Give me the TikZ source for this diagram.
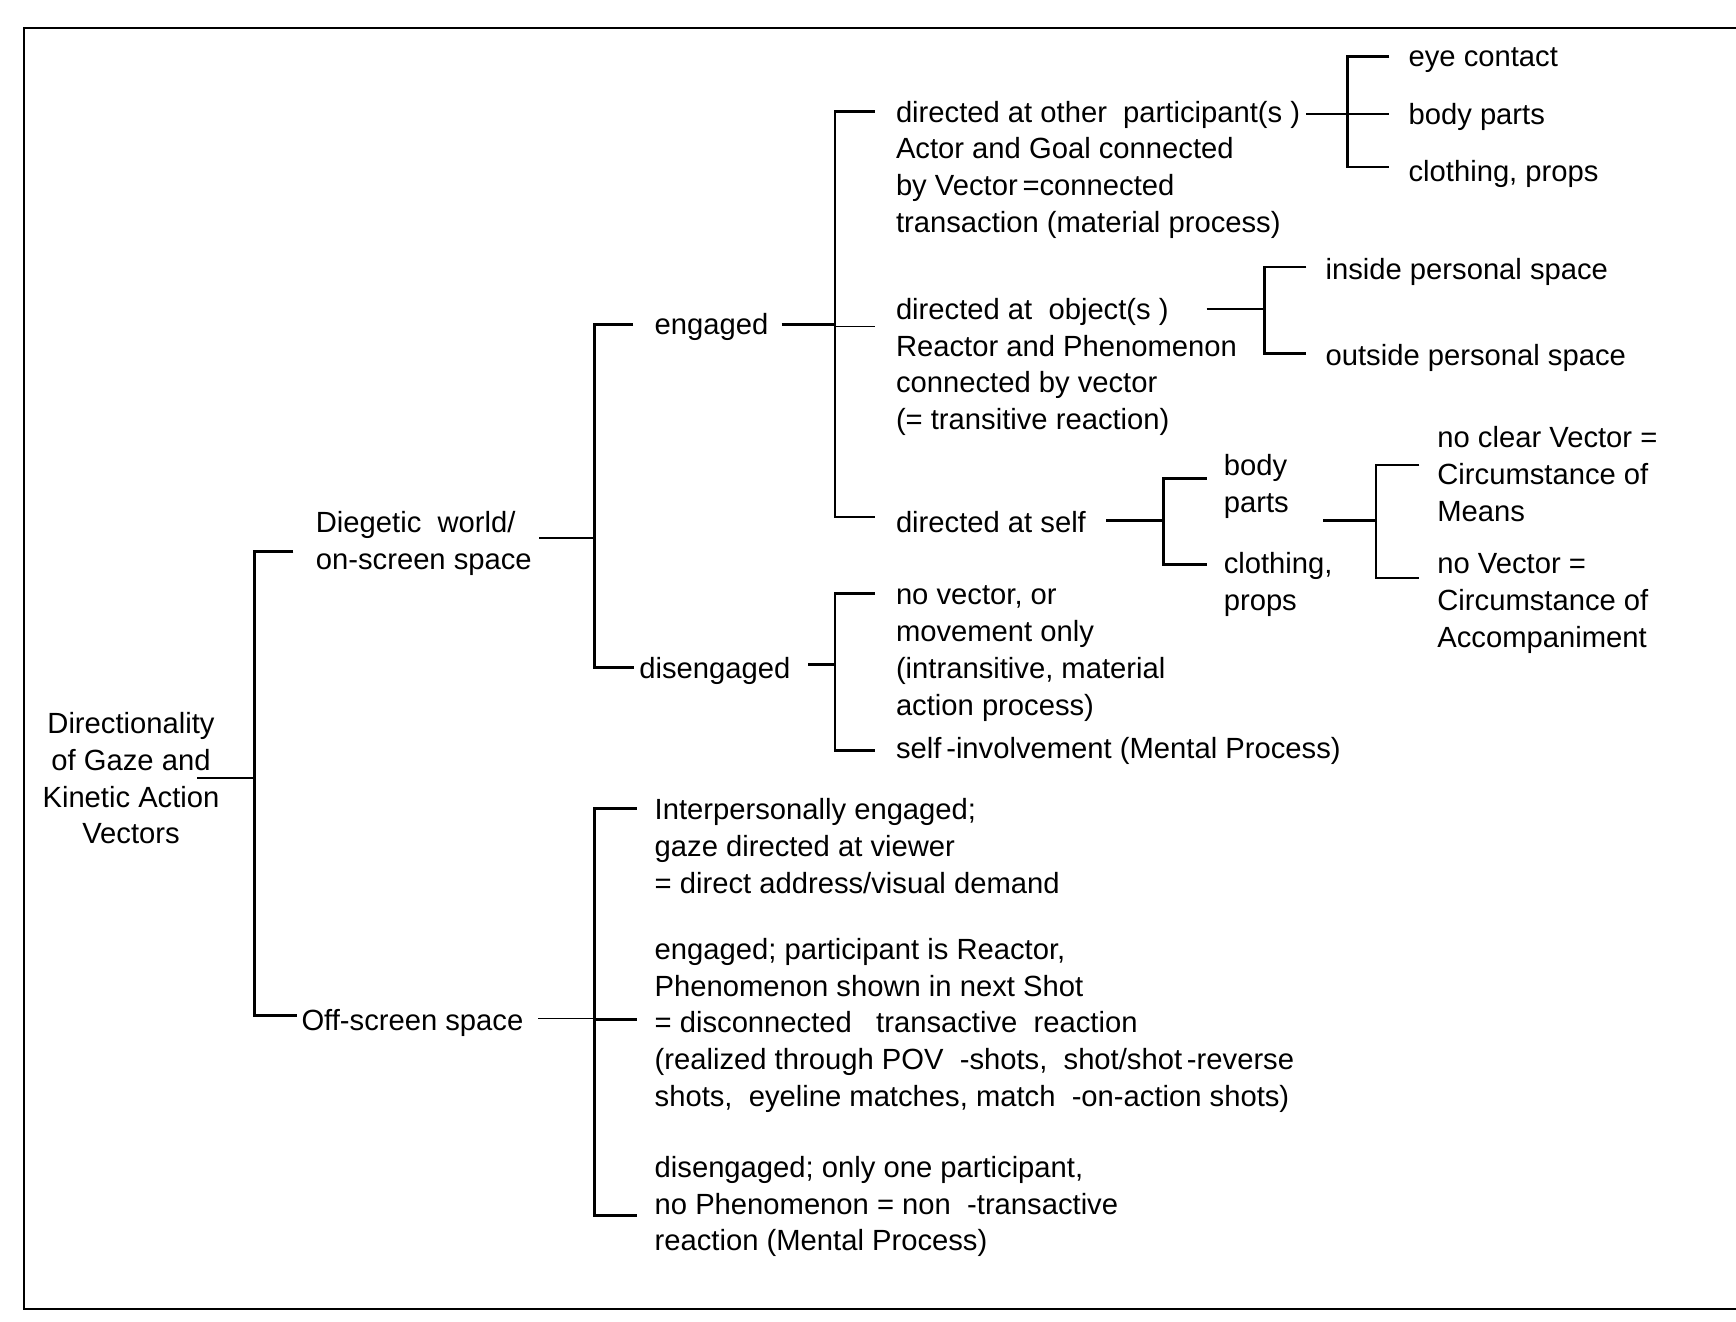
\documentclass[tikz,border=0pt]{standalone}
\usepackage{fontspec}
\setmainfont{Liberation Sans}
\newcommand\tf{\fontsize{14.6pt}{18.4pt}\selectfont}
\begin{document}
\begin{tikzpicture}[x=0.5pt,y=-0.5pt,
  lbl/.style={anchor=north west, inner sep=0pt, align=left, yshift=12.88pt, font=\tf},
  brk/.style={line width=1.3pt, line join=miter},
  thinline/.style={line width=0.7pt},
  frm/.style={line width=1.3pt}]
\useasboundingbox (0,0) rectangle (1736,1322);
% frame
\coordinate (f1) at (1745,28);
\coordinate (f2) at (24,28);
\coordinate (f3) at (24,1309);
\coordinate (f4) at (1745,1309);
\draw[frm] (f1) -- (f2) -- (f3) -- (f4);

% text nodes
\node[lbl, anchor=north, align=center] (root) at (131,733) {\strut Directionality\\of Gaze and\\Kinetic Action\\Vectors};
\node[lbl] (dieg) at (315.5,532.5) {\strut Diegetic\ \ world/\\on-screen space};
\node[lbl] (eng) at (654.3,334.5) {\strut engaged};
\node[lbl] (diseng) at (639,677.6) {\strut disengaged};
\node[lbl] (off) at (301.1,1029.6) {\strut Off-screen space};
\node[lbl] (dao) at (895.6,121.8) {\strut directed at other\ \ participant(s\ )\\Actor and Goal connected\\by Vector\,=connected\\transaction (material process)};
\node[lbl] (ec) at (1408.2,66.5) {\strut eye contact};
\node[lbl] (bp) at (1408.2,124) {\strut body parts};
\node[lbl] (cp) at (1408.2,181.6) {\strut clothing, props};
\node[lbl] (dob) at (895.6,318.9) {\strut directed at\ \ object(s\ )\\Reactor and Phenomenon\\connected by vector\\(= transitive reaction)};
\node[lbl] (ips) at (1325.2,279) {\strut inside personal space};
\node[lbl] (ops) at (1325.2,365.4) {\strut outside personal space};
\node[lbl] (das) at (895.6,532.5) {\strut directed at self};
\node[lbl] (bp2) at (1223.4,475) {\strut body\\parts};
\node[lbl] (cp2) at (1223.4,573.5) {\strut clothing,\\props};
\node[lbl] (ncv) at (1437,447.3) {\strut no clear Vector =\\Circumstance of\\Means};
\node[lbl] (nv) at (1437,573.5) {\strut no Vector =\\Circumstance of\\Accompaniment};
\node[lbl] (nvo) at (895.6,604.5) {\strut no vector, or\\movement only\\(intransitive, material\\action process)};
\node[lbl] (si) at (895.6,758.4) {\strut self\,-involvement (Mental Process)};
\node[lbl] (ie) at (654.3,819.3) {\strut Interpersonally engaged;\\gaze directed at viewer\\= direct address/visual demand};
\node[lbl] (eg) at (654.3,958.8) {\strut engaged; participant is Reactor,\\Phenomenon shown in next Shot\\= disconnected\ \ \ transactive\ \ reaction\\(realized through POV\ \ -shots,\ \ shot/shot\,-reverse\\shots,\ \ eyeline matches, match\ \ -on-action shots)};
\node[lbl] (dg) at (654.3,1176.9) {\strut disengaged; only one participant,\\no Phenomenon = non\ \ -transactive\\reaction (Mental Process)};

% bracket coordinates
\coordinate (r0) at (197,778);   \coordinate (j1) at (254.6,778);
\coordinate (e1a) at (293.4,551.3); \coordinate (e1b) at (296.7,1015.2);
\coordinate (s2) at (539,538);   \coordinate (j2) at (594.5,538);
\coordinate (e2a) at (633.2,324.4); \coordinate (e2b) at (634.4,667.6);
\coordinate (s3) at (781.6,324.4); \coordinate (j3) at (834.8,324.4);
\coordinate (e3a) at (874.6,111.8); \coordinate (e3b) at (874.6,517);
\coordinate (e3m) at (874.6,326.6);
\coordinate (s4) at (1306.4,114); \coordinate (j4) at (1347.3,114);
\coordinate (e4a) at (1389.4,56.5); \coordinate (e4b) at (1389.4,167.2);
\coordinate (e4m) at (1389.4,114);
\coordinate (s5) at (1206.7,308.9); \coordinate (j5) at (1264.3,308.9);
\coordinate (e5a) at (1306.4,266.8); \coordinate (e5b) at (1306.4,353.2);
\coordinate (s6) at (1106,520.3); \coordinate (j6) at (1163.6,520.3);
\coordinate (e6a) at (1206.7,478.3); \coordinate (e6b) at (1206.7,564.6);
\coordinate (s7) at (1323,520.3); \coordinate (j7) at (1376.1,520.3);
\coordinate (e7a) at (1419.3,465); \coordinate (e7b) at (1419.3,578);
\coordinate (s8) at (808.2,664.3); \coordinate (j8) at (834.8,664.3);
\coordinate (e8a) at (874.6,593.4); \coordinate (e8b) at (874.6,750.6);
\coordinate (s9) at (538,1018.5); \coordinate (j9) at (594.5,1018.5);
\coordinate (e9a) at (636.6,808.2); \coordinate (e9b) at (636.6,1215.6);
\coordinate (e9m) at (636.6,1019.6);

% brackets
\draw[brk] (r0) -- (j1);
\draw[brk] (e1a) -| (j1) |- (e1b);
\draw[brk] (s2) -- (j2);
\draw[brk] (e2a) -| (j2) |- (e2b);
\draw[brk] (s3) -- (j3);
\draw[brk] (e3a) -| (j3) |- (e3b);
\draw[thinline] (j3 |- e3m) -- (e3m);
\draw[brk] (s4) -- (j4);
\draw[brk] (e4a) -| (j4) |- (e4b);
\draw[brk] (j4) -- (e4m);
\draw[brk] (s5) -- (j5);
\draw[brk] (e5a) -| (j5) |- (e5b);
\draw[brk] (s6) -- (j6);
\draw[brk] (e6a) -| (j6) |- (e6b);
\draw[brk] (s7) -- (j7);
\draw[brk] (e7a) -| (j7) |- (e7b);
\draw[brk] (s8) -- (j8);
\draw[brk] (e8a) -| (j8) |- (e8b);
\draw[thinline] (s9) -- (j9);
\draw[brk] (e9a) -| (j9) |- (e9b);
\draw[brk] (j9 |- e9m) -- (e9m);
\end{tikzpicture}
\end{document}
